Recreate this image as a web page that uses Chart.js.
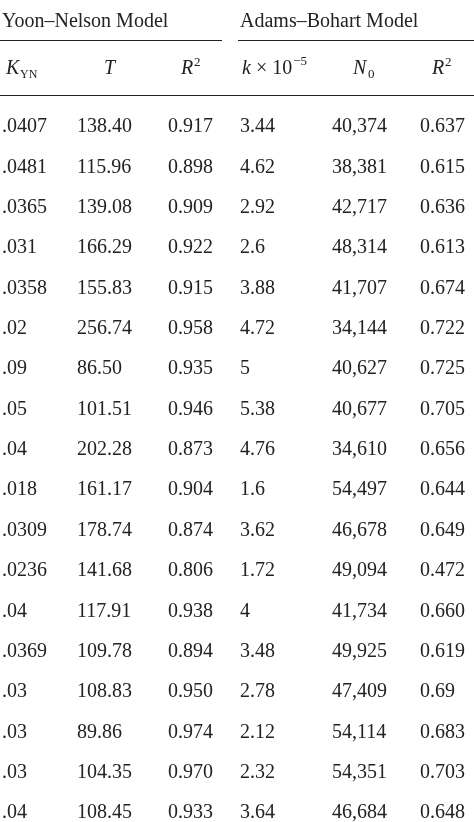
<!DOCTYPE html>
<html>
<head>
<meta charset="utf-8">
<script src="https://cdn.jsdelivr.net/npm/chart.js@4/dist/chart.umd.min.js"></script>
<style>
  html, body { margin: 0; padding: 0; background: #fff; }
  #wrap { width: 474px; height: 822px; }
</style>
</head>
<body>
<div id="wrap"><canvas id="myChart"></canvas></div>
<script>
var kYN = [".0407", ".0481", ".0365", ".031", ".0358", ".02", ".09", ".05", ".04", ".018", ".0309", ".0236", ".04", ".0369", ".03", ".03", ".03", ".04"];
var tYN = ["138.40", "115.96", "139.08", "166.29", "155.83", "256.74", "86.50", "101.51", "202.28", "161.17", "178.74", "141.68", "117.91", "109.78", "108.83", "89.86", "104.35", "108.45"];
var r2YN = ["0.917", "0.898", "0.909", "0.922", "0.915", "0.958", "0.935", "0.946", "0.873", "0.904", "0.874", "0.806", "0.938", "0.894", "0.950", "0.974", "0.970", "0.933"];
var kAB = ["3.44", "4.62", "2.92", "2.6", "3.88", "4.72", "5", "5.38", "4.76", "1.6", "3.62", "1.72", "4", "3.48", "2.78", "2.12", "2.32", "3.64"];
var n0AB = ["40,374", "38,381", "42,717", "48,314", "41,707", "34,144", "40,627", "40,677", "34,610", "54,497", "46,678", "49,094", "41,734", "49,925", "47,409", "54,114", "54,351", "46,684"];
var r2AB = ["0.637", "0.615", "0.636", "0.613", "0.674", "0.722", "0.725", "0.705", "0.656", "0.644", "0.649", "0.472", "0.660", "0.619", "0.69", "0.683", "0.703", "0.648"];
var columns = [kYN, tYN, r2YN, kAB, n0AB, r2AB];
var colX = [2, 77, 168, 240, 332, 420];

var points = [];
columns.forEach(function (col, c) {
  col.forEach(function (v, r) {
    points.push({ x: colX[c], y: r, label: v });
  });
});

var FONT = '"Liberation Serif", "DejaVu Serif", serif';

var tablePlugin = {
  id: "tableText",
  afterDatasetsDraw: function (chart) {
    var ctx = chart.ctx, xs = chart.scales.x, ys = chart.scales.y;
    ctx.save();
    ctx.fillStyle = "#222";
    ctx.textBaseline = "middle";
    ctx.font = "20px " + FONT;
    chart.data.datasets[0].data.forEach(function (p) {
      ctx.fillText(p.label, xs.getPixelForValue(p.x), ys.getPixelForValue(p.y));
    });
    // group headers
    var hy = ys.getPixelForValue(-2.62);
    ctx.fillText("Yoon\u2013Nelson Model", 2, hy);
    ctx.fillText("Adams\u2013Bohart Model", 240, hy);
    // sub-headers
    var sy = ys.getPixelForValue(-1.45);
    ctx.font = "italic 20px " + FONT;
    ctx.fillText("K", 6, sy);
    ctx.font = "12px " + FONT;
    ctx.fillText("YN", 20, sy + 6);
    ctx.font = "italic 20px " + FONT;
    ctx.fillText("T", 104, sy);
    ctx.fillText("R", 181, sy);
    ctx.fillText("R", 432, sy);
    ctx.fillText("k", 242, sy);
    ctx.fillText("N", 353, sy);
    ctx.font = "13px " + FONT;
    ctx.fillText("2", 194, sy - 6);
    ctx.fillText("2", 445, sy - 6);
    ctx.fillText("0", 368, sy + 6);
    ctx.font = "20px " + FONT;
    var w = ctx.measureText("\u00d7 10").width;
    ctx.fillText("\u00d7 10", 256, sy);
    ctx.font = "13px " + FONT;
    ctx.fillText("\u22125", 257 + w, sy - 7);
    // rules
    ctx.strokeStyle = "#222";
    ctx.lineWidth = 1.2;
    var l1 = Math.round(ys.getPixelForValue(-2.16)) + 0.5;
    var l2 = Math.round(ys.getPixelForValue(-0.8)) + 0.5;
    ctx.beginPath();
    ctx.moveTo(0, l1); ctx.lineTo(222, l1);
    ctx.moveTo(238, l1); ctx.lineTo(474, l1);
    ctx.moveTo(0, l2); ctx.lineTo(474, l2);
    ctx.stroke();
    ctx.restore();
  }
};

new Chart("myChart", {
  type: "scatter",
  data: {
    datasets: [{ data: points, pointRadius: 0, pointHoverRadius: 0 }]
  },
  options: {
    responsive: true,
    maintainAspectRatio: false,
    animation: false,
    layout: { padding: 0 },
    events: [],
    scales: {
      x: { display: false, min: 0, max: 474 },
      y: { display: false, min: -3.147, max: 17.22, reverse: true }
    },
    plugins: { legend: { display: false }, tooltip: { enabled: false } }
  },
  plugins: [tablePlugin]
});
</script>
</body>
</html>
